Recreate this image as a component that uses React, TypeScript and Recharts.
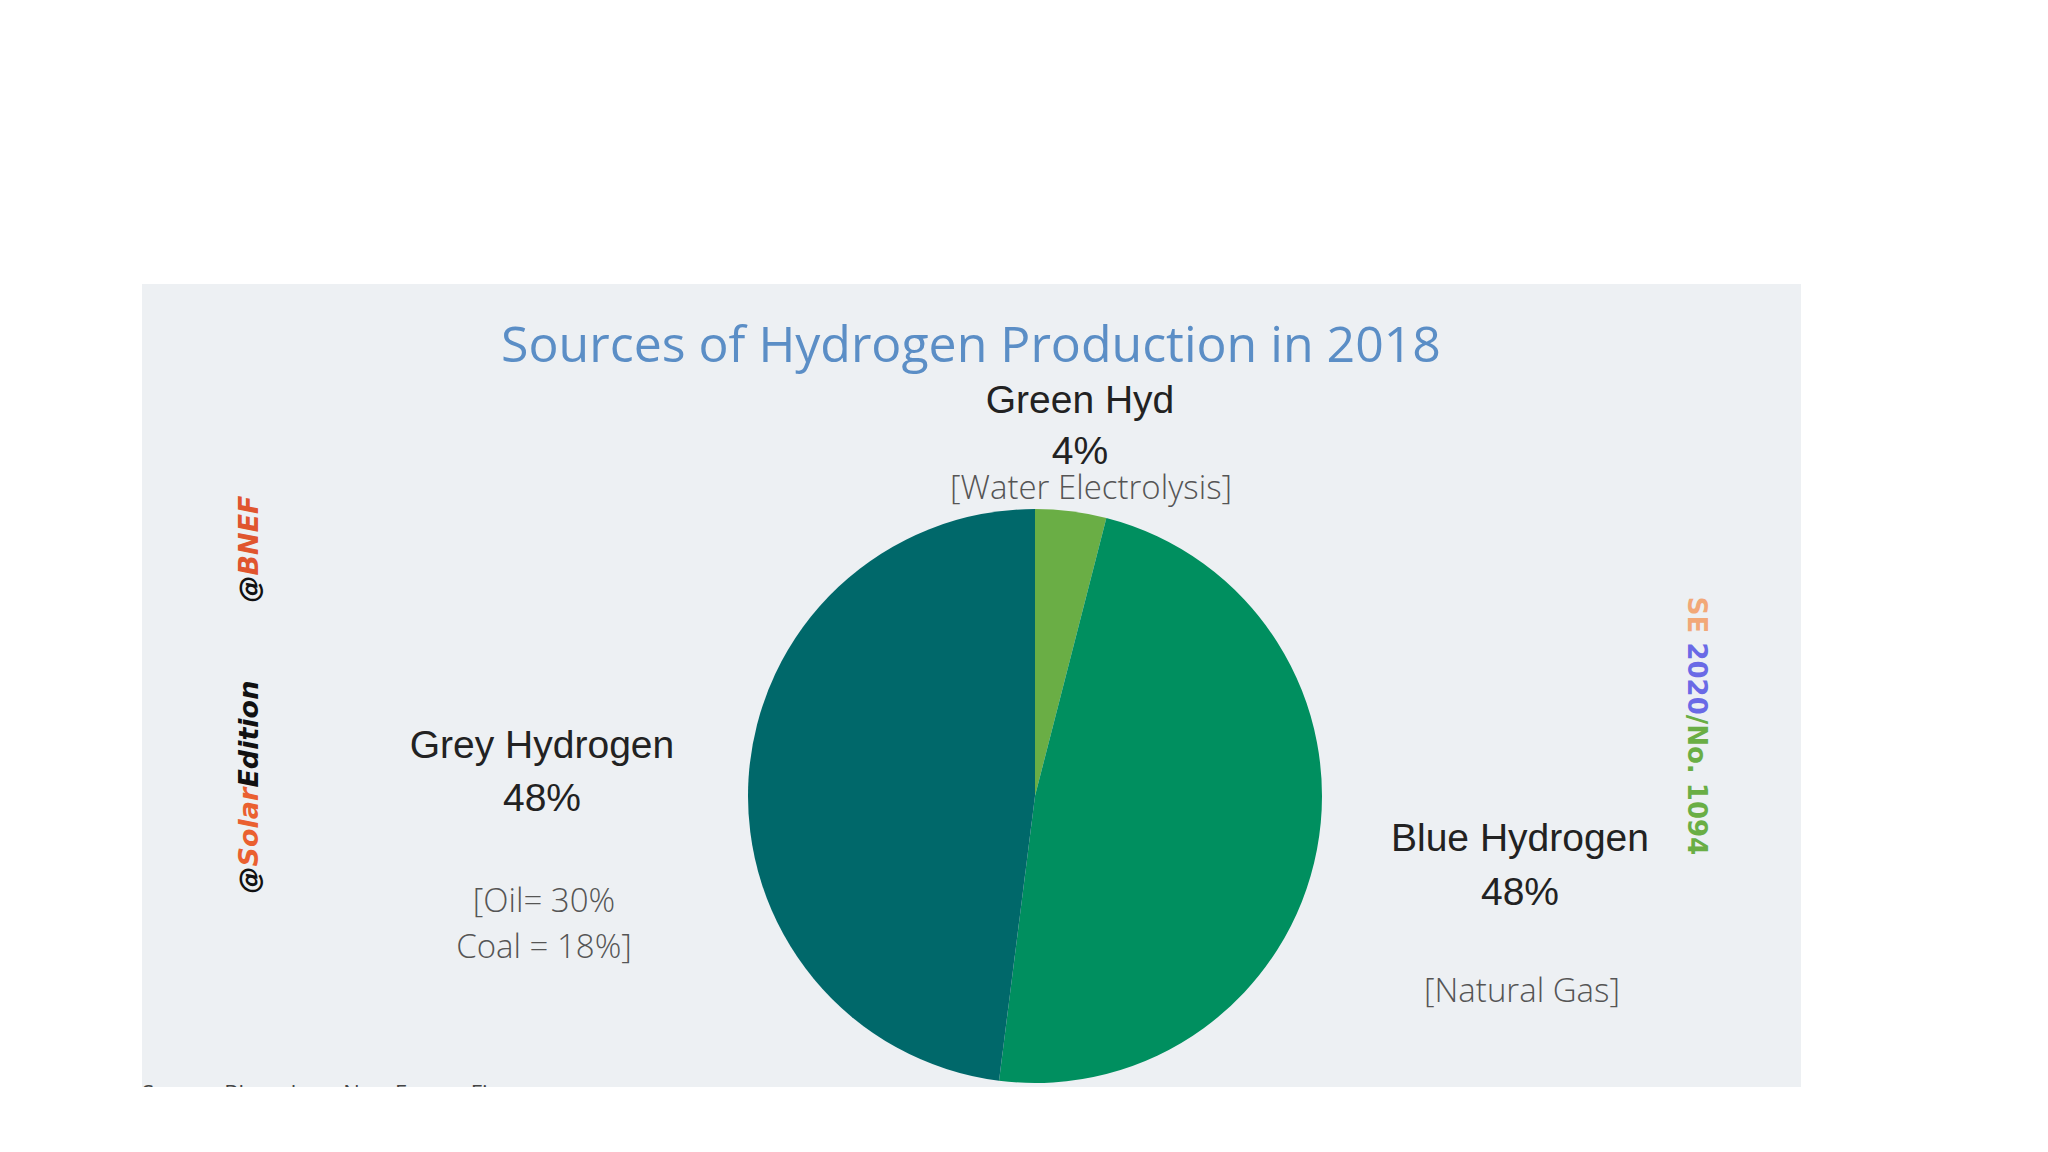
import { PieChart, Pie, Cell } from "recharts";

// slice order runs clockwise from 12 o'clock
const sources = ["Green Hyd", "Blue Hydrogen", "Grey Hydrogen"];
const shares = [4, 48, 48];
const sliceColors = ["#6aae45", "#008f5f", "#00686a"];
const feedstocks = [["[Water Electrolysis]"], ["[Natural Gas]"], ["[Oil= 30%", "Coal = 18%]"]];

const pieData = sources.map((name, i) => ({ name, value: shares[i] }));

const PANEL_W = 1659;
const PANEL_H = 803;

// label anchors inside the panel (name centre, percent centre, note centre)
const labelSpots = [
  { x: 938, name: 115, pct: 166, note: 202 },
  { x: 1378, name: 553, pct: 607, note: 705 },
  { x: 400, name: 460, pct: 513, note: 615 },
];

const centered = (x: number, y: number, extra: React.CSSProperties = {}): React.CSSProperties => ({
  position: "absolute",
  left: x,
  top: y,
  transform: "translate(-50%, -50%)",
  whiteSpace: "nowrap",
  lineHeight: 1,
  ...extra,
});

const nameFont: React.CSSProperties = {
  fontFamily: "'Liberation Sans', Arial, sans-serif",
  fontSize: 39,
  color: "#222",
};

const noteFont: React.CSSProperties = {
  fontFamily: "'Open Sans', sans-serif",
  fontWeight: 300,
  fontSize: 33,
  color: "#555",
};

const stamp: React.CSSProperties = {
  fontFamily: "'DejaVu Sans', sans-serif",
  fontWeight: 700,
  fontStyle: "italic",
  fontSize: 27,
  color: "#111",
};

export default function App() {
  return (
    <div style={{ position: "absolute", left: 0, top: 0, width: 2048, height: 1152, background: "#fff" }}>
      <div
        style={{
          position: "absolute",
          left: 142,
          top: 284,
          width: PANEL_W,
          height: PANEL_H,
          background: "#edf0f3",
          overflow: "hidden",
        }}
      >
        <PieChart width={PANEL_W} height={PANEL_H}>
          <Pie
            data={pieData}
            dataKey="value"
            cx={888}
            cy={507}
            outerRadius={287}
            startAngle={90}
            endAngle={-270}
            stroke="none"
            isAnimationActive={false}
          >
            {pieData.map((entry, index) => (
              <Cell key={`cell-${index}`} fill={sliceColors[index]} />
            ))}
          </Pie>
        </PieChart>

        <div
          style={centered(829, 59, {
            fontFamily: "'Open Sans', sans-serif",
            fontSize: 50,
            color: "#5b8ec6",
          })}
        >
          Sources of Hydrogen Production in 2018
        </div>

        {sources.map((name, i) => {
          const spot = labelSpots[i];
          return (
            <div key={name}>
              <div style={centered(spot.x, spot.name, nameFont)}>{name}</div>
              <div style={centered(spot.x, spot.pct, nameFont)}>{shares[i]}%</div>
              {feedstocks[i].map((line, j) => (
                <div key={line} style={centered(spot.x + (i === 0 ? 11 : 2), spot.note + j * 46, noteFont)}>
                  {line}
                </div>
              ))}
            </div>
          );
        })}

        {/* watermarks */}
        <div style={centered(106, 503, { ...stamp, transform: "translate(-50%, -50%) rotate(-90deg)" })}>
          @<span style={{ color: "#ea6030" }}>Solar</span>Edition
        </div>
        <div style={centered(106, 265, { ...stamp, transform: "translate(-50%, -50%) rotate(-90deg)" })}>
          @<span style={{ color: "#e0552e" }}>BNEF</span>
        </div>
        <div
          style={centered(1555, 442, {
            transform: "translate(-50%, -50%) rotate(90deg)",
            fontFamily: "'DejaVu Sans', sans-serif",
            fontWeight: 700,
            fontSize: 26,
          })}
        >
          <span style={{ color: "#f2a878" }}>SE </span>
          <span style={{ color: "#6a6ae6" }}>2020</span>
          <span style={{ color: "#6aae45" }}>/No. 1094</span>
        </div>

        {/* source line, cut off by the panel edge */}
        <div
          style={{
            position: "absolute",
            left: 0,
            top: PANEL_H - 6,
            whiteSpace: "nowrap",
            fontFamily: "'Open Sans', sans-serif",
            fontSize: 22,
            color: "#444",
            lineHeight: 1,
          }}
        >
          Source: Bloomberg New Energy Finance
        </div>
      </div>
    </div>
  );
}
